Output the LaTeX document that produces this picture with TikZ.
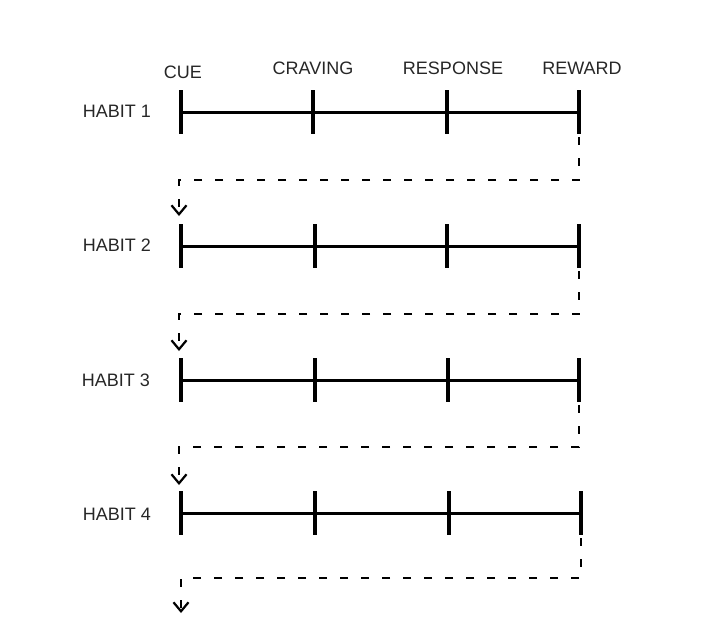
\documentclass[tikz,border=0pt]{standalone}
\usepackage{fontspec}
\setmainfont{Liberation Sans}
\usetikzlibrary{arrows.meta}
\tikzset{
	habitline/.style={line width=3pt},
	tickmark/.style={line width=3.4pt},
	loopback/.style={line width=2.3pt, dash pattern=on 8pt off 13pt, -{Straight Barb[length=9pt,width=15pt,line width=2.2pt]}},
	habitname/.style={anchor=east, inner sep=0pt, text=black!85, font=\fontsize{18}{20}\selectfont},
	stagename/.style={inner sep=0pt, text=black!85, font=\fontsize{18}{20}\selectfont},
}

\begin{document}
\begin{tikzpicture}[x=1pt, y=-1pt]
			%%%%% START %%%%%
			\useasboundingbox (0, 0) rectangle (715, 640);
			
			\node[stagename] (cuetxt) at (183, 72) {CUE};
			\node[stagename] (cravetxt) at (313, 68) {CRAVING};
			\node[stagename] (resptxt) at (453, 68) {RESPONSE};
			\node[stagename] (rewtxt) at (582, 68) {REWARD};
			
			% habit 1
			\node[habitname] (habit1) at (151, 111) {HABIT 1};
			\coordinate (cue1) at (181, 112);
			\coordinate (crave1) at (313, 112);
			\coordinate (resp1) at (447, 112);
			\coordinate (rew1) at (579, 112);
			\draw[habitline] (cue1) -- (crave1) -- (resp1) -- (rew1);
			\draw[tickmark] ([yshift=22pt]cue1) -- ([yshift=-22pt]cue1);
			\draw[tickmark] ([yshift=22pt]crave1) -- ([yshift=-22pt]crave1);
			\draw[tickmark] ([yshift=22pt]resp1) -- ([yshift=-22pt]resp1);
			\draw[tickmark] ([yshift=22pt]rew1) -- ([yshift=-22pt]rew1);
			\coordinate (back1) at (179, 180);
			\coordinate (next1) at (179, 216);
			\draw[loopback] ([yshift=-25pt]rew1) |- (back1) -- (next1);
			
			% habit 2
			\node[habitname] (habit2) at (151, 245) {HABIT 2};
			\coordinate (cue2) at (181, 246);
			\coordinate (crave2) at (315, 246);
			\coordinate (resp2) at (447, 246);
			\coordinate (rew2) at (579, 246);
			\draw[habitline] (cue2) -- (crave2) -- (resp2) -- (rew2);
			\draw[tickmark] ([yshift=22pt]cue2) -- ([yshift=-22pt]cue2);
			\draw[tickmark] ([yshift=22pt]crave2) -- ([yshift=-22pt]crave2);
			\draw[tickmark] ([yshift=22pt]resp2) -- ([yshift=-22pt]resp2);
			\draw[tickmark] ([yshift=22pt]rew2) -- ([yshift=-22pt]rew2);
			\coordinate (back2) at (179, 314);
			\coordinate (next2) at (179, 351);
			\draw[loopback] ([yshift=-25pt]rew2) |- (back2) -- (next2);
			
			% habit 3
			\node[habitname] (habit3) at (150, 380) {HABIT 3};
			\coordinate (cue3) at (181, 380);
			\coordinate (crave3) at (315, 380);
			\coordinate (resp3) at (448, 380);
			\coordinate (rew3) at (579, 380);
			\draw[habitline] (cue3) -- (crave3) -- (resp3) -- (rew3);
			\draw[tickmark] ([yshift=22pt]cue3) -- ([yshift=-22pt]cue3);
			\draw[tickmark] ([yshift=22pt]crave3) -- ([yshift=-22pt]crave3);
			\draw[tickmark] ([yshift=22pt]resp3) -- ([yshift=-22pt]resp3);
			\draw[tickmark] ([yshift=22pt]rew3) -- ([yshift=-22pt]rew3);
			\coordinate (back3) at (179, 447);
			\coordinate (next3) at (179, 485);
			\draw[loopback] ([yshift=-25pt]rew3) |- (back3) -- (next3);
			
			% habit 4
			\node[habitname] (habit4) at (151, 514) {HABIT 4};
			\coordinate (cue4) at (181, 513);
			\coordinate (crave4) at (315, 513);
			\coordinate (resp4) at (449, 513);
			\coordinate (rew4) at (581, 513);
			\draw[habitline] (cue4) -- (crave4) -- (resp4) -- (rew4);
			\draw[tickmark] ([yshift=22pt]cue4) -- ([yshift=-22pt]cue4);
			\draw[tickmark] ([yshift=22pt]crave4) -- ([yshift=-22pt]crave4);
			\draw[tickmark] ([yshift=22pt]resp4) -- ([yshift=-22pt]resp4);
			\draw[tickmark] ([yshift=22pt]rew4) -- ([yshift=-22pt]rew4);
			\coordinate (back4) at (181, 578);
			\coordinate (next4) at (181, 613);
			\draw[loopback] ([yshift=-25pt]rew4) |- (back4) -- (next4);
			
			%%%%% END %%%%%
\end{tikzpicture}
\end{document}
